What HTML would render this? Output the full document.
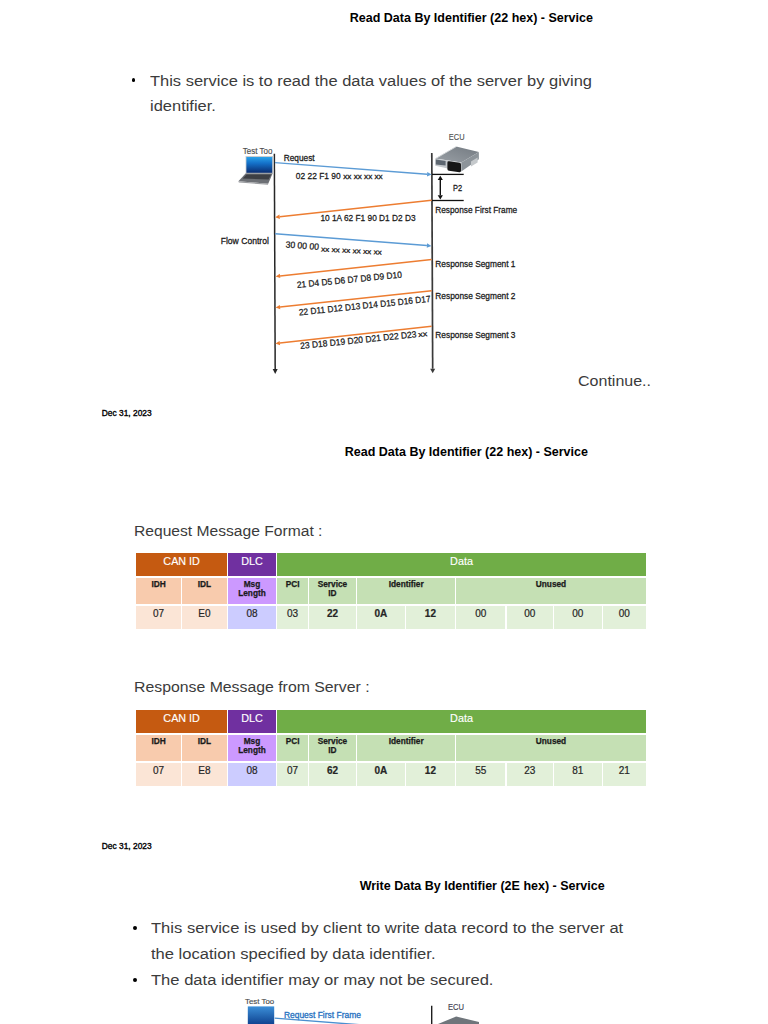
<!DOCTYPE html>
<html><head><meta charset="utf-8"><title>UDS Services</title>
<style>
html,body{margin:0;padding:0;background:#fff;}
body{width:768px;height:1024px;position:relative;overflow:hidden;font-family:"Liberation Sans", sans-serif;}
.t{position:absolute;white-space:nowrap;line-height:1;transform-origin:0 0;}
.c{position:absolute;display:flex;align-items:flex-start;justify-content:center;text-align:center;box-sizing:border-box;line-height:1.0;}
svg{position:absolute;left:0;top:0;}
svg text{font-family:"Liberation Sans", sans-serif;}
</style></head><body>
<div class="t" style="left:349.80px;top:12.22px;font-size:12.5px;font-weight:700;color:#000;">Read Data By Identifier (22 hex) - Service</div>
<div class="t" style="left:150.40px;top:73.95px;font-size:14px;font-weight:400;color:#3b3b3b;transform:scaleX(1.1760);">This service is to read the data values of the server by giving</div>
<div class="t" style="left:150.40px;top:99.15px;font-size:14px;font-weight:400;color:#3b3b3b;transform:scaleX(1.1760);">identifier.</div>
<div class="t" style="left:578.30px;top:374.35px;font-size:14px;font-weight:400;color:#3b3b3b;transform:scaleX(1.1440);">Continue..</div>
<div class="t" style="left:101.80px;top:409.19px;font-size:8.4px;font-weight:400;color:#000;-webkit-text-stroke:0.35px #000;">Dec 31, 2023</div>
<div class="t" style="left:344.80px;top:445.92px;font-size:12.5px;font-weight:700;color:#000;">Read Data By Identifier (22 hex) - Service</div>
<div class="t" style="left:134.00px;top:524.45px;font-size:14px;font-weight:400;color:#3b3b3b;transform:scaleX(1.1160);">Request Message Format :</div>
<div class="t" style="left:133.50px;top:680.35px;font-size:14px;font-weight:400;color:#3b3b3b;transform:scaleX(1.1300);">Response Message from Server :</div>
<div class="t" style="left:101.80px;top:842.39px;font-size:8.4px;font-weight:400;color:#000;-webkit-text-stroke:0.35px #000;">Dec 31, 2023</div>
<div class="t" style="left:359.70px;top:880.22px;font-size:12.5px;font-weight:700;color:#000;">Write Data By Identifier (2E hex) - Service</div>
<div class="t" style="left:150.80px;top:920.85px;font-size:14px;font-weight:400;color:#3b3b3b;transform:scaleX(1.1830);">This service is used by client to write data record to the server at</div>
<div class="t" style="left:150.80px;top:946.55px;font-size:14px;font-weight:400;color:#3b3b3b;transform:scaleX(1.1830);">the location specified by data identifier.</div>
<div class="t" style="left:150.80px;top:973.15px;font-size:14px;font-weight:400;color:#3b3b3b;transform:scaleX(1.1830);">The data identifier may or may not be secured.</div>
<div style="position:absolute;left:131.60px;top:78.15px;width:3.90px;height:3.90px;border-radius:50%;background:#000"></div>
<div style="position:absolute;left:132.75px;top:926.15px;width:3.90px;height:3.90px;border-radius:50%;background:#000"></div>
<div style="position:absolute;left:132.75px;top:977.75px;width:3.90px;height:3.90px;border-radius:50%;background:#000"></div>
<div class="c" style="left:136.20px;top:553.30px;width:90.90px;height:23.00px;background:#C55A11;font-size:10.8px;font-weight:400;color:#fff;padding-top:2.60px;line-height:1.0;-webkit-text-stroke:0.15px #fff"><span>CAN ID</span></div>
<div class="c" style="left:228.20px;top:553.30px;width:47.60px;height:23.00px;background:#7030A0;font-size:10.8px;font-weight:400;color:#fff;padding-top:2.60px;line-height:1.0;-webkit-text-stroke:0.15px #fff"><span>DLC</span></div>
<div class="c" style="left:277.20px;top:553.30px;width:368.60px;height:23.00px;background:#70AD47;font-size:10.8px;font-weight:400;color:#fff;padding-top:2.60px;line-height:1.0;-webkit-text-stroke:0.15px #fff"><span>Data</span></div>
<div class="c" style="left:136.20px;top:577.80px;width:44.70px;height:26.70px;background:#F8CBAD;font-size:8.3px;font-weight:700;color:#1a1a1a;padding-top:2.20px;line-height:1.0;-webkit-text-stroke:0.25px #1a1a1a"><span>IDH</span></div>
<div class="c" style="left:181.80px;top:577.80px;width:45.30px;height:26.70px;background:#F8CBAD;font-size:8.3px;font-weight:700;color:#1a1a1a;padding-top:2.20px;line-height:1.0;-webkit-text-stroke:0.25px #1a1a1a"><span>IDL</span></div>
<div class="c" style="left:228.20px;top:577.80px;width:47.60px;height:26.70px;background:#CC99FF;font-size:8.3px;font-weight:700;color:#1a1a1a;padding-top:2.20px;line-height:1.07;-webkit-text-stroke:0.25px #1a1a1a"><span>Msg<br>Length</span></div>
<div class="c" style="left:277.20px;top:577.80px;width:30.80px;height:26.70px;background:#C5E0B4;font-size:8.3px;font-weight:700;color:#1a1a1a;padding-top:2.20px;line-height:1.0;-webkit-text-stroke:0.25px #1a1a1a"><span>PCI</span></div>
<div class="c" style="left:309.10px;top:577.80px;width:46.70px;height:26.70px;background:#C5E0B4;font-size:8.3px;font-weight:700;color:#1a1a1a;padding-top:2.20px;line-height:1.07;-webkit-text-stroke:0.25px #1a1a1a"><span>Service<br>ID</span></div>
<div class="c" style="left:357.20px;top:577.80px;width:98.00px;height:26.70px;background:#C5E0B4;font-size:8.3px;font-weight:700;color:#1a1a1a;padding-top:2.20px;line-height:1.0;-webkit-text-stroke:0.25px #1a1a1a"><span>Identifier</span></div>
<div class="c" style="left:456.20px;top:577.80px;width:189.60px;height:26.70px;background:#C5E0B4;font-size:8.3px;font-weight:700;color:#1a1a1a;padding-top:2.20px;line-height:1.0;-webkit-text-stroke:0.25px #1a1a1a"><span>Unused</span></div>
<div class="c" style="left:136.20px;top:605.90px;width:44.70px;height:22.80px;background:#FBE5D6;font-size:10.0px;font-weight:400;color:#262626;padding-top:3.40px;line-height:1.0;-webkit-text-stroke:0.2px #262626"><span>07</span></div>
<div class="c" style="left:181.80px;top:605.90px;width:45.30px;height:22.80px;background:#FBE5D6;font-size:10.0px;font-weight:400;color:#262626;padding-top:3.40px;line-height:1.0;-webkit-text-stroke:0.2px #262626"><span>E0</span></div>
<div class="c" style="left:228.20px;top:605.90px;width:47.60px;height:22.80px;background:#CCCCFF;font-size:10.0px;font-weight:400;color:#262626;padding-top:3.40px;line-height:1.0;-webkit-text-stroke:0.2px #262626"><span>08</span></div>
<div class="c" style="left:277.20px;top:605.90px;width:30.80px;height:22.80px;background:#E2F0D9;font-size:10.0px;font-weight:400;color:#262626;padding-top:3.40px;line-height:1.0;-webkit-text-stroke:0.2px #262626"><span>03</span></div>
<div class="c" style="left:309.10px;top:605.90px;width:46.70px;height:22.80px;background:#E2F0D9;font-size:10.0px;font-weight:700;color:#262626;padding-top:3.40px;line-height:1.0;-webkit-text-stroke:0.2px #262626"><span>22</span></div>
<div class="c" style="left:357.20px;top:605.90px;width:47.40px;height:22.80px;background:#E2F0D9;font-size:10.0px;font-weight:700;color:#262626;padding-top:3.40px;line-height:1.0;-webkit-text-stroke:0.2px #262626"><span>0A</span></div>
<div class="c" style="left:405.60px;top:605.90px;width:49.60px;height:22.80px;background:#E2F0D9;font-size:10.0px;font-weight:700;color:#262626;padding-top:3.40px;line-height:1.0;-webkit-text-stroke:0.2px #262626"><span>12</span></div>
<div class="c" style="left:456.20px;top:605.90px;width:49.30px;height:22.80px;background:#E2F0D9;font-size:10.0px;font-weight:400;color:#262626;padding-top:3.40px;line-height:1.0;-webkit-text-stroke:0.2px #262626"><span>00</span></div>
<div class="c" style="left:506.50px;top:605.90px;width:46.40px;height:22.80px;background:#E2F0D9;font-size:10.0px;font-weight:400;color:#262626;padding-top:3.40px;line-height:1.0;-webkit-text-stroke:0.2px #262626"><span>00</span></div>
<div class="c" style="left:553.90px;top:605.90px;width:47.70px;height:22.80px;background:#E2F0D9;font-size:10.0px;font-weight:400;color:#262626;padding-top:3.40px;line-height:1.0;-webkit-text-stroke:0.2px #262626"><span>00</span></div>
<div class="c" style="left:602.60px;top:605.90px;width:43.20px;height:22.80px;background:#E2F0D9;font-size:10.0px;font-weight:400;color:#262626;padding-top:3.40px;line-height:1.0;-webkit-text-stroke:0.2px #262626"><span>00</span></div>
<div class="c" style="left:136.20px;top:710.30px;width:90.90px;height:23.00px;background:#C55A11;font-size:10.8px;font-weight:400;color:#fff;padding-top:2.60px;line-height:1.0;-webkit-text-stroke:0.15px #fff"><span>CAN ID</span></div>
<div class="c" style="left:228.20px;top:710.30px;width:47.60px;height:23.00px;background:#7030A0;font-size:10.8px;font-weight:400;color:#fff;padding-top:2.60px;line-height:1.0;-webkit-text-stroke:0.15px #fff"><span>DLC</span></div>
<div class="c" style="left:277.20px;top:710.30px;width:368.60px;height:23.00px;background:#70AD47;font-size:10.8px;font-weight:400;color:#fff;padding-top:2.60px;line-height:1.0;-webkit-text-stroke:0.15px #fff"><span>Data</span></div>
<div class="c" style="left:136.20px;top:734.80px;width:44.70px;height:26.70px;background:#F8CBAD;font-size:8.3px;font-weight:700;color:#1a1a1a;padding-top:2.20px;line-height:1.0;-webkit-text-stroke:0.25px #1a1a1a"><span>IDH</span></div>
<div class="c" style="left:181.80px;top:734.80px;width:45.30px;height:26.70px;background:#F8CBAD;font-size:8.3px;font-weight:700;color:#1a1a1a;padding-top:2.20px;line-height:1.0;-webkit-text-stroke:0.25px #1a1a1a"><span>IDL</span></div>
<div class="c" style="left:228.20px;top:734.80px;width:47.60px;height:26.70px;background:#CC99FF;font-size:8.3px;font-weight:700;color:#1a1a1a;padding-top:2.20px;line-height:1.07;-webkit-text-stroke:0.25px #1a1a1a"><span>Msg<br>Length</span></div>
<div class="c" style="left:277.20px;top:734.80px;width:30.80px;height:26.70px;background:#C5E0B4;font-size:8.3px;font-weight:700;color:#1a1a1a;padding-top:2.20px;line-height:1.0;-webkit-text-stroke:0.25px #1a1a1a"><span>PCI</span></div>
<div class="c" style="left:309.10px;top:734.80px;width:46.70px;height:26.70px;background:#C5E0B4;font-size:8.3px;font-weight:700;color:#1a1a1a;padding-top:2.20px;line-height:1.07;-webkit-text-stroke:0.25px #1a1a1a"><span>Service<br>ID</span></div>
<div class="c" style="left:357.20px;top:734.80px;width:98.00px;height:26.70px;background:#C5E0B4;font-size:8.3px;font-weight:700;color:#1a1a1a;padding-top:2.20px;line-height:1.0;-webkit-text-stroke:0.25px #1a1a1a"><span>Identifier</span></div>
<div class="c" style="left:456.20px;top:734.80px;width:189.60px;height:26.70px;background:#C5E0B4;font-size:8.3px;font-weight:700;color:#1a1a1a;padding-top:2.20px;line-height:1.0;-webkit-text-stroke:0.25px #1a1a1a"><span>Unused</span></div>
<div class="c" style="left:136.20px;top:762.90px;width:44.70px;height:22.80px;background:#FBE5D6;font-size:10.0px;font-weight:400;color:#262626;padding-top:3.40px;line-height:1.0;-webkit-text-stroke:0.2px #262626"><span>07</span></div>
<div class="c" style="left:181.80px;top:762.90px;width:45.30px;height:22.80px;background:#FBE5D6;font-size:10.0px;font-weight:400;color:#262626;padding-top:3.40px;line-height:1.0;-webkit-text-stroke:0.2px #262626"><span>E8</span></div>
<div class="c" style="left:228.20px;top:762.90px;width:47.60px;height:22.80px;background:#CCCCFF;font-size:10.0px;font-weight:400;color:#262626;padding-top:3.40px;line-height:1.0;-webkit-text-stroke:0.2px #262626"><span>08</span></div>
<div class="c" style="left:277.20px;top:762.90px;width:30.80px;height:22.80px;background:#E2F0D9;font-size:10.0px;font-weight:400;color:#262626;padding-top:3.40px;line-height:1.0;-webkit-text-stroke:0.2px #262626"><span>07</span></div>
<div class="c" style="left:309.10px;top:762.90px;width:46.70px;height:22.80px;background:#E2F0D9;font-size:10.0px;font-weight:700;color:#262626;padding-top:3.40px;line-height:1.0;-webkit-text-stroke:0.2px #262626"><span>62</span></div>
<div class="c" style="left:357.20px;top:762.90px;width:47.40px;height:22.80px;background:#E2F0D9;font-size:10.0px;font-weight:700;color:#262626;padding-top:3.40px;line-height:1.0;-webkit-text-stroke:0.2px #262626"><span>0A</span></div>
<div class="c" style="left:405.60px;top:762.90px;width:49.60px;height:22.80px;background:#E2F0D9;font-size:10.0px;font-weight:700;color:#262626;padding-top:3.40px;line-height:1.0;-webkit-text-stroke:0.2px #262626"><span>12</span></div>
<div class="c" style="left:456.20px;top:762.90px;width:49.30px;height:22.80px;background:#E2F0D9;font-size:10.0px;font-weight:400;color:#262626;padding-top:3.40px;line-height:1.0;-webkit-text-stroke:0.2px #262626"><span>55</span></div>
<div class="c" style="left:506.50px;top:762.90px;width:46.40px;height:22.80px;background:#E2F0D9;font-size:10.0px;font-weight:400;color:#262626;padding-top:3.40px;line-height:1.0;-webkit-text-stroke:0.2px #262626"><span>23</span></div>
<div class="c" style="left:553.90px;top:762.90px;width:47.70px;height:22.80px;background:#E2F0D9;font-size:10.0px;font-weight:400;color:#262626;padding-top:3.40px;line-height:1.0;-webkit-text-stroke:0.2px #262626"><span>81</span></div>
<div class="c" style="left:602.60px;top:762.90px;width:43.20px;height:22.80px;background:#E2F0D9;font-size:10.0px;font-weight:400;color:#262626;padding-top:3.40px;line-height:1.0;-webkit-text-stroke:0.2px #262626"><span>21</span></div>
<svg width="768" height="1024" viewBox="0 0 768 1024">
<defs>
<linearGradient id="scr" x1="0" y1="0" x2="0" y2="1">
<stop offset="0" stop-color="#2aa2ea"/><stop offset="0.4" stop-color="#1470c8"/><stop offset="1" stop-color="#0a2c70"/>
</linearGradient>
<linearGradient id="scr2" x1="0" y1="0" x2="0" y2="1">
<stop offset="0" stop-color="#3c8fd8"/><stop offset="1" stop-color="#0a3a88"/>
</linearGradient>
<linearGradient id="ecutop" x1="0" y1="1" x2="1" y2="0">
<stop offset="0" stop-color="#9aa0a6"/><stop offset="1" stop-color="#737a81"/>
</linearGradient>
</defs>
<line x1="274.35" y1="153.7" x2="275.18147152768773" y2="369.1000357609963" stroke="#262626" stroke-width="1.5"/>
<polygon points="275.20,373.90 272.68,369.11 277.68,369.09" fill="#262626"/>
<line x1="431.8" y1="153.0" x2="432.6812076012158" y2="368.70003838649194" stroke="#3a3a3a" stroke-width="1.7"/>
<polygon points="432.70,373.30 430.18,368.71 435.18,368.69" fill="#3a3a3a"/>
<rect x="245.6" y="156" width="28" height="18" fill="#c9ccd0"/>
<rect x="246.4" y="157" width="25.8" height="15.8" fill="url(#scr)"/>
<polygon points="245.6,173.6 272.6,173.6 268.2,183.8 238.4,181.2" fill="#6d7075"/>
<polygon points="246.5,174.6 271.2,174.6 268.6,179.6 242.6,178.6" fill="#3d3f44"/>
<polygon points="238.4,181.2 268.2,183.8 268.0,184.8 238.8,182.4" fill="#9a9ca0"/>
<text x="242.8" y="153.5" font-size="8.2" fill="#4a4a4a" font-weight="400" textLength="29.6" lengthAdjust="spacingAndGlyphs" stroke="#4a4a4a" stroke-width="0.15">Test Too</text>
<text x="448.8" y="140.3" font-size="8.7" fill="#505050" font-weight="400" textLength="15.7" lengthAdjust="spacingAndGlyphs" stroke="#505050" stroke-width="0.15">ECU</text>
<polygon points="435.3,158.6 456.1,146.6 478.9,152.1 461.3,162.5" fill="url(#ecutop)"/>
<polygon points="435.3,158.6 461.3,162.5 461.3,171.6 435.3,165.8" fill="#c4c8cc"/>
<polygon points="461.3,162.5 478.9,152.1 478.9,159.3 461.3,171.6" fill="#8d949a"/>
<polygon points="435.8,159.6 445.6,160.9 445.6,165.4 435.8,164.6" fill="#5d6670"/>
<rect x="447.4" y="161.0" width="13.6" height="9.4" rx="1.6" fill="#161616" transform="skewY(8) translate(0,-62.8)"/>
<polygon points="471,161.4 477.6,157.6 477.6,162.4 471,166.4" fill="#c5c9cc"/>
<line x1="437" y1="157.8" x2="457" y2="146.2" stroke="#e2e4e6" stroke-width="0.8"/>
<text x="283.75" y="160.8" font-size="8.5" fill="#1a1a1a" font-weight="400" textLength="30.9" lengthAdjust="spacingAndGlyphs" stroke="#1a1a1a" stroke-width="0.26">Request</text>
<line x1="275.0" y1="162.6" x2="427.1131538844114" y2="174.25618037428438" stroke="#5B9BD5" stroke-width="1.4"/>
<polygon points="431.60,174.60 426.95,176.45 427.28,172.06" fill="#5B9BD5"/>
<text x="295.8" y="178.75" font-size="9" fill="#1a1a1a" font-weight="400" textLength="44.8" lengthAdjust="spacingAndGlyphs" stroke="#1a1a1a" stroke-width="0.26">02 22 F1 90</text>
<text x="343.3" y="178.75" font-size="7.2" fill="#1a1a1a" font-weight="400" textLength="39.4" lengthAdjust="spacingAndGlyphs" stroke="#1a1a1a" stroke-width="0.26">xx xx xx xx</text>
<line x1="432.0" y1="174.4" x2="463.7" y2="174.4" stroke="#111" stroke-width="1.3"/>
<line x1="432.0" y1="200.5" x2="463.7" y2="200.5" stroke="#111" stroke-width="1.3"/>
<line x1="440.3" y1="188" x2="440.3" y2="180.0" stroke="#111" stroke-width="1.4"/>
<polygon points="440.30,175.80 442.90,180.00 437.70,180.00" fill="#111"/>
<line x1="440.3" y1="188" x2="440.3" y2="195.3" stroke="#111" stroke-width="1.4"/>
<polygon points="440.30,199.50 437.70,195.30 442.90,195.30" fill="#111"/>
<text x="453" y="190.9" font-size="8.3" fill="#1a1a1a" font-weight="400" textLength="9.1" lengthAdjust="spacingAndGlyphs" stroke="#1a1a1a" stroke-width="0.26">P2</text>
<line x1="431.6" y1="200.3" x2="279.67395649303285" y2="216.71656096718505" stroke="#ED7D31" stroke-width="1.5"/>
<polygon points="275.20,217.20 279.44,214.53 279.91,218.90" fill="#ED7D31"/>
<text x="320.4" y="220.8" font-size="9" fill="#1a1a1a" font-weight="400" textLength="95.2" lengthAdjust="spacingAndGlyphs" stroke="#1a1a1a" stroke-width="0.26">10 1A 62 F1 90 D1 D2 D3</text>
<text x="435.2" y="213.4" font-size="9" fill="#1a1a1a" font-weight="400" textLength="82" lengthAdjust="spacingAndGlyphs" stroke="#1a1a1a" stroke-width="0.26">Response First Frame</text>
<text x="220.7" y="243.7" font-size="8.5" fill="#1a1a1a" font-weight="400" textLength="48.2" lengthAdjust="spacingAndGlyphs" stroke="#1a1a1a" stroke-width="0.26">Flow Control</text>
<line x1="275.2" y1="233.75" x2="426.91355213404324" y2="245.55102214102834" stroke="#5B9BD5" stroke-width="1.4"/>
<polygon points="431.40,245.90 426.74,247.74 427.08,243.36" fill="#5B9BD5"/>
<text x="285.4" y="247.5" font-size="9" fill="#1a1a1a" font-weight="400" textLength="33.5" lengthAdjust="spacingAndGlyphs" stroke="#1a1a1a" stroke-width="0.26" transform="rotate(4.000 285.4 247.5)">30 00 00</text>
<text x="321" y="251.5" font-size="7.2" fill="#1a1a1a" font-weight="400" textLength="60.7" lengthAdjust="spacingAndGlyphs" stroke="#1a1a1a" stroke-width="0.26" transform="rotate(3.000 321 251.5)">xx xx xx xx xx xx</text>
<line x1="431.6" y1="259.6" x2="280.07413013115513" y2="275.9181706012602" stroke="#ED7D31" stroke-width="1.5"/>
<polygon points="275.60,276.40 279.84,273.73 280.31,278.11" fill="#ED7D31"/>
<text x="435.3" y="267.3" font-size="9" fill="#1a1a1a" font-weight="400" textLength="80.2" lengthAdjust="spacingAndGlyphs" stroke="#1a1a1a" stroke-width="0.26">Response Segment 1</text>
<text x="297.2" y="288.0" font-size="9" fill="#1a1a1a" font-weight="400" textLength="105.5" lengthAdjust="spacingAndGlyphs" stroke="#1a1a1a" stroke-width="0.26" transform="rotate(-5.700 297.2 288.0)">21 D4 D5 D6 D7 D8 D9 D10</text>
<line x1="431.6" y1="290.8" x2="280.07413013115513" y2="307.11817060126026" stroke="#ED7D31" stroke-width="1.5"/>
<polygon points="275.60,307.60 279.84,304.93 280.31,309.31" fill="#ED7D31"/>
<text x="435.3" y="298.8" font-size="9" fill="#1a1a1a" font-weight="400" textLength="80.2" lengthAdjust="spacingAndGlyphs" stroke="#1a1a1a" stroke-width="0.26">Response Segment 2</text>
<text x="299.2" y="315.4" font-size="9" fill="#1a1a1a" font-weight="400" textLength="132.3" lengthAdjust="spacingAndGlyphs" stroke="#1a1a1a" stroke-width="0.26" transform="rotate(-5.900 299.2 315.4)">22 D11 D12 D13 D14 D15 D16 D17</text>
<line x1="431.6" y1="326.2" x2="279.872336960512" y2="343.1018011324398" stroke="#ED7D31" stroke-width="1.5"/>
<polygon points="275.40,343.60 279.63,340.92 280.12,345.29" fill="#ED7D31"/>
<text x="435.3" y="337.7" font-size="9" fill="#1a1a1a" font-weight="400" textLength="80.2" lengthAdjust="spacingAndGlyphs" stroke="#1a1a1a" stroke-width="0.26">Response Segment 3</text>
<text x="300.5" y="349.0" font-size="9" fill="#1a1a1a" font-weight="400" textLength="116.8" lengthAdjust="spacingAndGlyphs" stroke="#1a1a1a" stroke-width="0.26" transform="rotate(-5.800 300.5 349.0)">23 D18 D19 D20 D21 D22 D23</text>
<text x="418.5" y="337.0" font-size="7.2" fill="#1a1a1a" font-weight="400" textLength="9.0" lengthAdjust="spacingAndGlyphs" stroke="#1a1a1a" stroke-width="0.26" transform="rotate(-5.800 418.5 337.0)">xx</text>
<text x="245" y="1004.2" font-size="8.0" fill="#4a4a4a" font-weight="400" textLength="29.2" lengthAdjust="spacingAndGlyphs" stroke="#4a4a4a" stroke-width="0.15">Test Too</text>
<rect x="247.8" y="1006.4" width="26.4" height="20" fill="url(#scr2)"/>
<text x="283.9" y="1017.7" font-size="9" fill="#2470c0" font-weight="400" textLength="77" lengthAdjust="spacingAndGlyphs" stroke="#2470c0" stroke-width="0.3">Request First Frame</text>
<line x1="274.7" y1="1018.1" x2="390" y2="1027.1" stroke="#4a8fd0" stroke-width="1.4"/>
<line x1="431.7" y1="1005.8" x2="431.7" y2="1024" stroke="#1e1e1e" stroke-width="1.4"/>
<text x="448" y="1010.2" font-size="8.7" fill="#404050" font-weight="400" textLength="16.1" lengthAdjust="spacingAndGlyphs" stroke="#404050" stroke-width="0.15">ECU</text>
<polygon points="438,1024 456.2,1016.4 479,1022 479,1024" fill="#6f757b"/>
</svg>
</body></html>
